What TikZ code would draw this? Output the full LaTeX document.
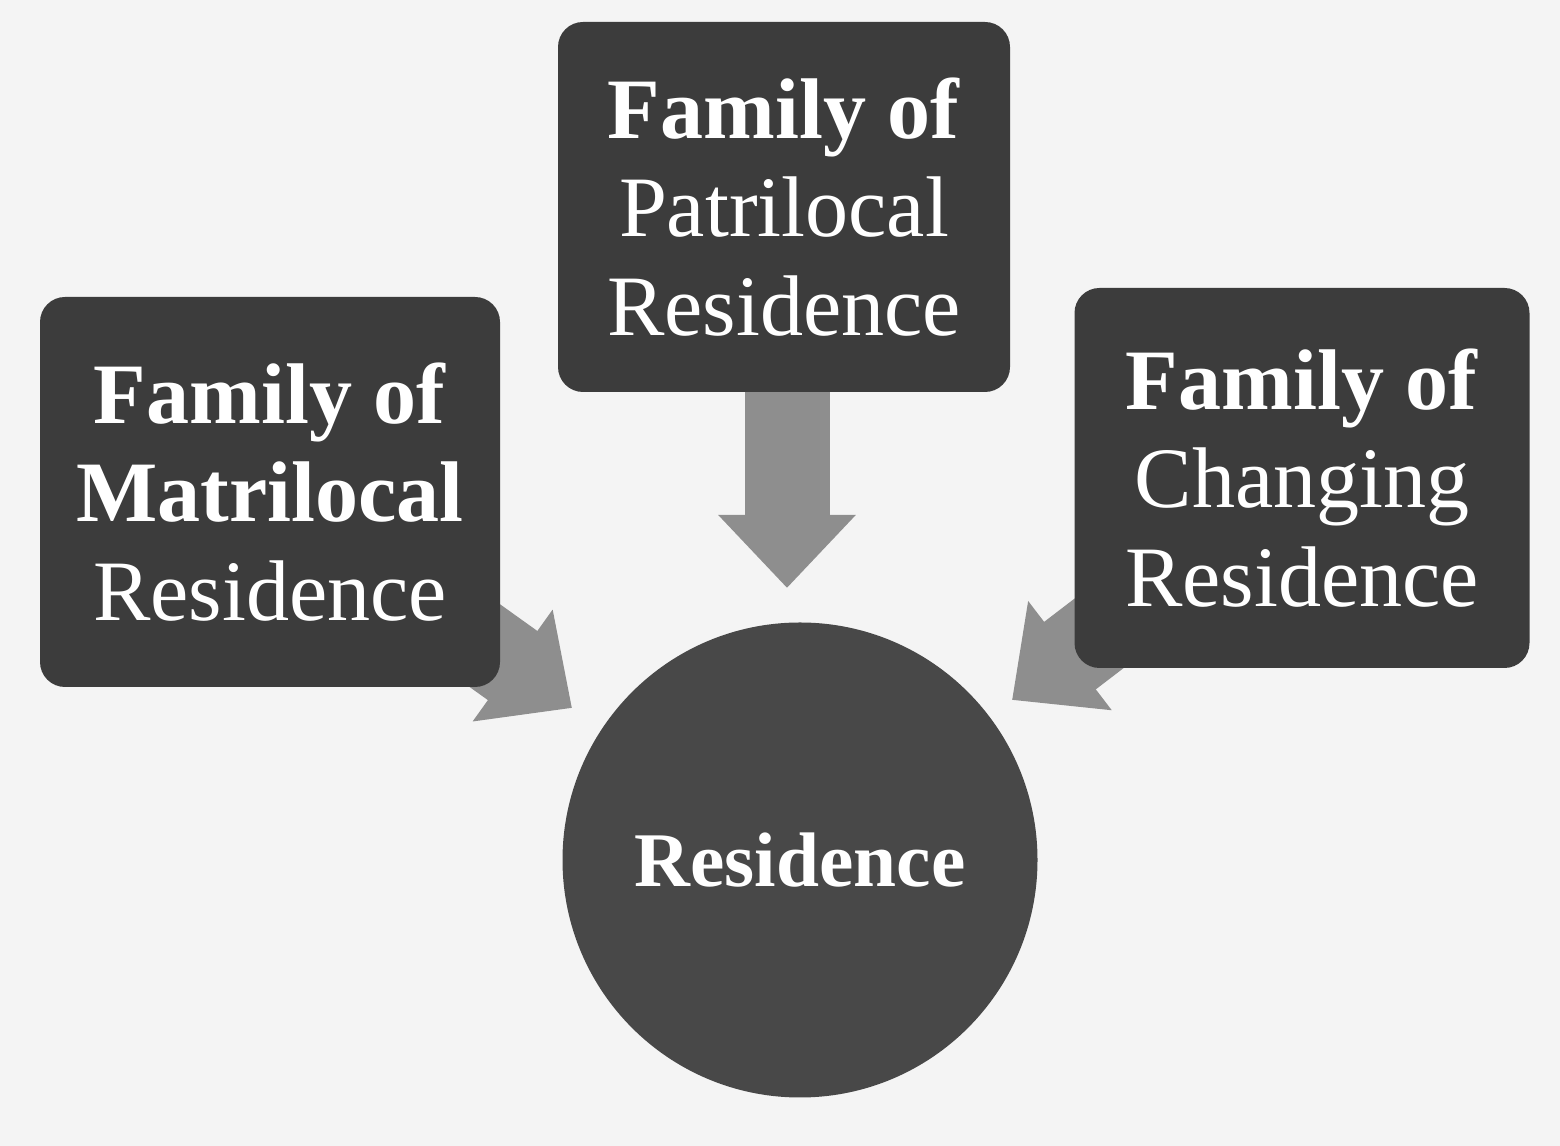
\documentclass[tikz,border=0pt]{standalone}
\usepackage{fontspec}
\setmainfont{Liberation Serif}
\usetikzlibrary{arrows.meta,backgrounds}
\definecolor{boxgray}{HTML}{3C3C3C}
\definecolor{circgray}{HTML}{484848}
\definecolor{arrgray}{HTML}{8E8E8E}
\definecolor{paper}{HTML}{F4F4F4}
\tikzset{
	famblock/.style={fill=boxgray, rounded corners=0.5cm, text=white, align=center,
		font=\fontsize{49}{56}\selectfont, inner sep=0pt},
	blockarrow/.style={arrgray, line width=1.7cm, -{Triangle[width=2.66cm,length=1.46cm]}},
}
\begin{document}
\begin{tikzpicture}
			\useasboundingbox (0,0) rectangle (31.2,22.92);
			%boxes
			\node[famblock, minimum width=9.2cm, minimum height=7.8cm] (matri) at (5.4, 13.08)
				{\textbf{Family of}\\\textbf{Matrilocal}\\Residence};
			\node[famblock, minimum width=9.04cm, minimum height=7.4cm] (patri) at (15.68, 18.78)
				{\textbf{Family of}\\Patrilocal\\Residence};
			\node[famblock, minimum width=9.1cm, minimum height=7.6cm] (chang) at (26.04, 13.36)
				{\textbf{Family of}\\Changing\\Residence};
			\node[circle, fill=circgray, minimum size=9.5cm, text=white,
				font=\fontsize{44}{52}\selectfont\bfseries] (res) at (16.0, 5.72){Residence};
			
			%arrow tips
			\coordinate (mtip) at (11.44, 8.76);
			\coordinate (ptip) at (15.74, 11.16);
			\coordinate (ctip) at (20.24, 8.92);
			
			\begin{scope}[on background layer]
				\fill[paper] (0,0) rectangle (31.2,22.92);
				\draw[blockarrow] (matri.center) -- (mtip);
				\draw[blockarrow] (patri.center -| ptip) -- (ptip);
				\draw[blockarrow] (chang.center) -- (ctip);
			\end{scope}
\end{tikzpicture}
\end{document}
